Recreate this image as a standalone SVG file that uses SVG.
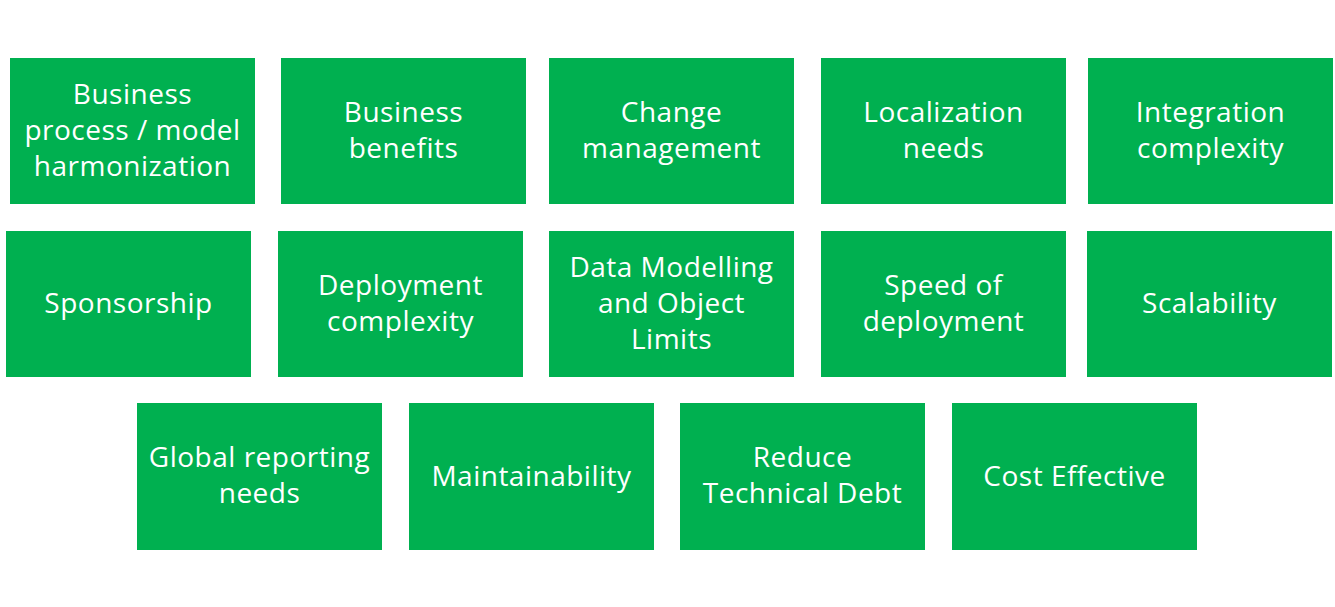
<svg xmlns="http://www.w3.org/2000/svg" width="1335" height="607" viewBox="0 0 1335 607">
<style>
.box{fill:#00B050;}
.t{font-family:"Open Sans","Noto Sans",sans-serif;font-size:28px;letter-spacing:0.5px;fill:#FFFFFF;text-anchor:middle;}
</style>
<rect width="1335" height="607" fill="#FFFFFF"/>
<g id="connectors"></g>
<g id="n1"><rect class="box" x="10" y="58" width="245" height="146"/><text class="t"><tspan x="132.5" y="104">Business</tspan><tspan x="132.5" y="140">process / model</tspan><tspan x="132.5" y="176">harmonization</tspan></text></g>
<g id="n2"><rect class="box" x="281" y="58" width="245" height="146"/><text class="t"><tspan x="403.5" y="122">Business</tspan><tspan x="403.5" y="158">benefits</tspan></text></g>
<g id="n3"><rect class="box" x="549" y="58" width="245" height="146"/><text class="t"><tspan x="671.5" y="122">Change</tspan><tspan x="671.5" y="158">management</tspan></text></g>
<g id="n4"><rect class="box" x="821" y="58" width="245" height="146"/><text class="t"><tspan x="943.5" y="122">Localization</tspan><tspan x="943.5" y="158">needs</tspan></text></g>
<g id="n5"><rect class="box" x="1088" y="58" width="245" height="146"/><text class="t"><tspan x="1210.5" y="122">Integration</tspan><tspan x="1210.5" y="158">complexity</tspan></text></g>
<g id="n6"><rect class="box" x="6" y="231" width="245" height="146"/><text class="t"><tspan x="128.5" y="313">Sponsorship</tspan></text></g>
<g id="n7"><rect class="box" x="278" y="231" width="245" height="146"/><text class="t"><tspan x="400.5" y="295">Deployment</tspan><tspan x="400.5" y="331">complexity</tspan></text></g>
<g id="n8"><rect class="box" x="549" y="231" width="245" height="146"/><text class="t"><tspan x="671.5" y="277">Data Modelling</tspan><tspan x="671.5" y="313">and Object</tspan><tspan x="671.5" y="349">Limits</tspan></text></g>
<g id="n9"><rect class="box" x="821" y="231" width="245" height="146"/><text class="t"><tspan x="943.5" y="295">Speed of</tspan><tspan x="943.5" y="331">deployment</tspan></text></g>
<g id="n10"><rect class="box" x="1087" y="231" width="245" height="146"/><text class="t"><tspan x="1209.5" y="313">Scalability</tspan></text></g>
<g id="n11"><rect class="box" x="137" y="403" width="245" height="147"/><text class="t"><tspan x="259.5" y="467">Global reporting</tspan><tspan x="259.5" y="503">needs</tspan></text></g>
<g id="n12"><rect class="box" x="409" y="403" width="245" height="147"/><text class="t"><tspan x="531.5" y="486">Maintainability</tspan></text></g>
<g id="n13"><rect class="box" x="680" y="403" width="245" height="147"/><text class="t"><tspan x="802.5" y="467">Reduce</tspan><tspan x="802.5" y="503">Technical Debt</tspan></text></g>
<g id="n14"><rect class="box" x="952" y="403" width="245" height="147"/><text class="t"><tspan x="1074.5" y="486">Cost Effective</tspan></text></g>
</svg>
